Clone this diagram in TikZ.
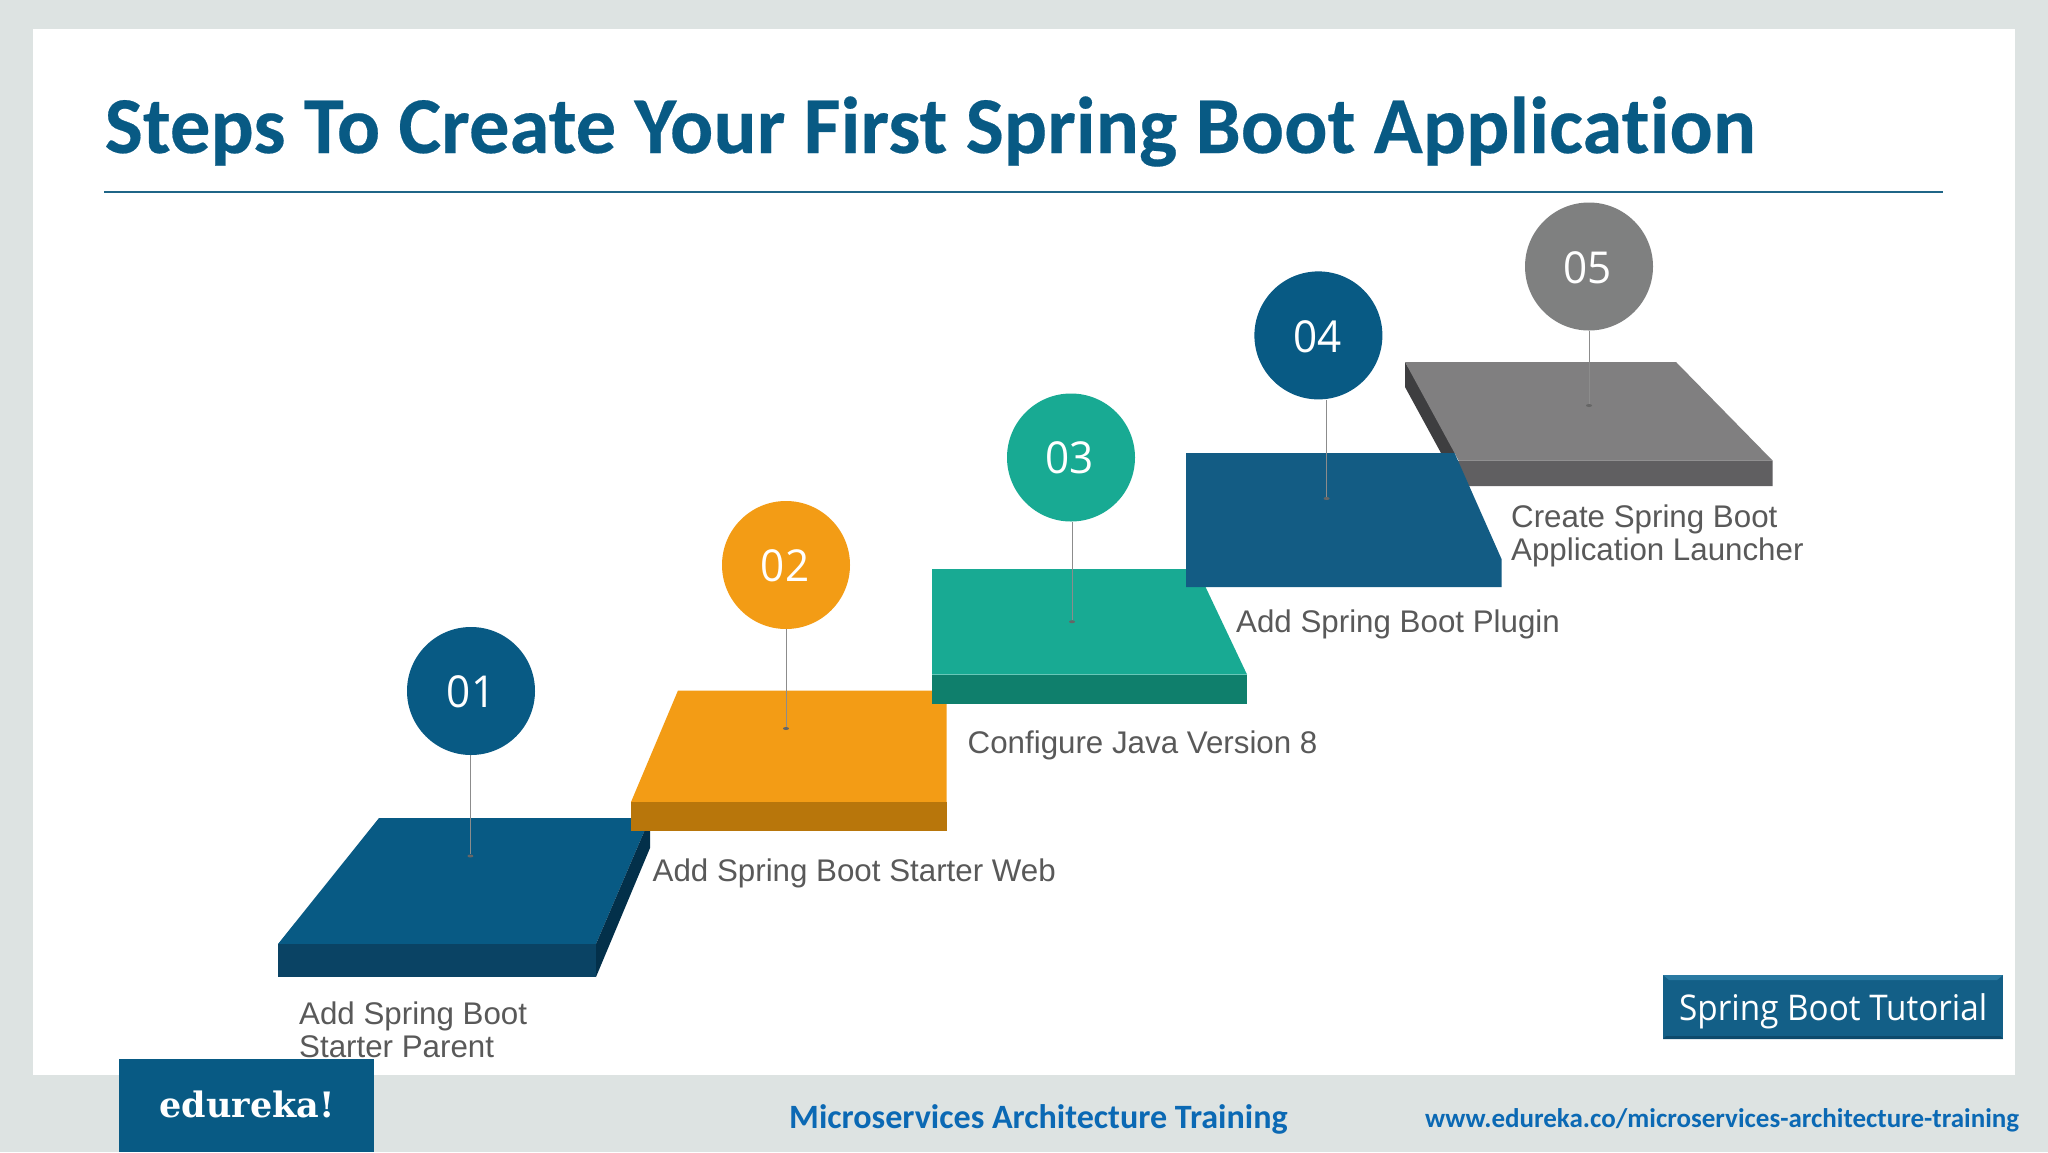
\documentclass[tikz,border=0pt]{standalone}
\usepackage{fontspec}
\setmainfont{Liberation Sans}
\newfontfamily\opensans[FakeStretch=0.94]{Open Sans}
\newfontfamily\numfont[FakeStretch=0.96]{Open Sans}
\newfontfamily\carlito[Ligatures=NoCommon]{Carlito}
\newfontfamily\titlefont[Ligatures=NoCommon,BoldFeatures={FakeBold=0.25}]{Carlito}
\newfontfamily\slabfont{DejaVu Serif}
\definecolor{pagebg}{HTML}{DDE3E2}
\definecolor{brandblue}{HTML}{085A84}
\definecolor{bluefront}{HTML}{0A4364}
\definecolor{blueside}{HTML}{03304A}
\definecolor{orangetop}{HTML}{F39C15}
\definecolor{orangefront}{HTML}{B8760B}
\definecolor{tealtop}{HTML}{18AA93}
\definecolor{tealfront}{HTML}{0F7F6C}
\definecolor{planfour}{HTML}{135C84}
\definecolor{greytop}{HTML}{807F80}
\definecolor{greyfront}{HTML}{605F61}
\definecolor{greyside}{HTML}{3E3E40}
\definecolor{greycircle}{HTML}{7F8080}
\definecolor{labelgrey}{HTML}{595959}
\definecolor{rulecol}{HTML}{1F6587}
\definecolor{footblue}{HTML}{0B69B4}
\definecolor{tutbase}{HTML}{135F87}
\definecolor{tuttop}{HTML}{2A7AA2}
\definecolor{tutbot}{HTML}{0D4A6C}
\tikzset{
  numcircle/.style={circle,minimum size=128pt,inner sep=0pt},
  numtext/.style={text=white,inner sep=0pt,font=\numfont\fontsize{44}{44}\selectfont},
  steplabel/.style={anchor=base west,inner sep=0pt,text=labelgrey,font=\fontsize{31.3}{33}\selectfont},
  pinline/.style={draw=black!45,line width=1pt},
  pindot/.style={ellipse,fill=black!60,minimum width=6pt,minimum height=3pt,inner sep=0pt},
}
\usetikzlibrary{shapes.geometric}
\begin{document}
\begin{tikzpicture}[x=1pt,y=-1pt]
\useasboundingbox (0,0) rectangle (2048,1152);
\fill[pagebg] (0,0) rectangle (2048,1152);
\fill[white] (33,29) rectangle (2015,1075);
% title
\node[anchor=base west,inner sep=0pt,text=brandblue,font=\titlefont\bfseries\fontsize{80.7}{80}\selectfont] (title) at (104.5,153) {Steps To Create Your First Spring Boot Application};
\coordinate (ruleL) at (104,192);
\coordinate (ruleR) at (1943,192);
\draw[rulecol,line width=1.6pt] (ruleL) -- (ruleR);
% plate 1
\fill[brandblue] (379,818) -- (650,818) -- (596,944) -- (278,944) -- cycle;
\fill[bluefront] (278,944) -- (596,944) -- (596,977) -- (278,977) -- cycle;
\fill[blueside] (596,944) -- (650,818) -- (650,848) -- (596,977) -- cycle;
% plate 2
\fill[orangetop] (678,690.5) -- (946.5,690.5) -- (946.5,802) -- (631,802) -- cycle;
\fill[orangefront] (631,802) rectangle (946.5,831);
% plate 5
\fill[greyside] (1405,362) -- (1405,387) -- (1441,453) -- (1460,453) -- cycle;
\fill[greytop] (1405,362) -- (1676,362) -- (1772.6,460.6) -- (1458.7,460.6) -- cycle;
\fill[greyfront] (1458.7,460.6) -- (1772.6,460.6) -- (1772.6,486) -- (1440,486) -- cycle;
% plate 3
\fill[tealtop] (932,569) -- (1197,569) -- (1247,674.5) -- (932,674.5) -- cycle;
\fill[tealfront] (932,674.5) rectangle (1247,703.6);
% plate 4
\fill[planfour] (1186,453) -- (1454.6,453) -- (1501.5,559) -- (1501.5,587) -- (1186,587) -- cycle;
% circles and pins
\node[numcircle,fill=brandblue] (c1) at (471,691) {};
\node[numcircle,fill=orangetop] (c2) at (786,565) {};
\node[numcircle,fill=tealtop] (c3) at (1071,457.5) {};
\node[numcircle,fill=brandblue] (c4) at (1318.4,335.4) {};
\node[numcircle,fill=greycircle] (c5) at (1589,266.5) {};
\node[numtext] (n1) at (471,692) {01};
\node[numtext] (n2) at (785,566) {02};
\node[numtext] (n3) at (1069.5,458) {03};
\node[numtext] (n4) at (1317.5,337) {04};
\node[numtext] (n5) at (1587.5,268) {05};
\node[pindot] (d1) at (470.4,856) {};
\node[pindot] (d2) at (786,728.5) {};
\node[pindot] (d3) at (1072,621.7) {};
\node[pindot] (d4) at (1326.6,498.5) {};
\node[pindot] (d5) at (1589,405.5) {};
\draw[pinline] (d1 |- c1.south) -- (d1);
\draw[pinline] (d2 |- c2.south) -- (d2);
\draw[pinline] (d3 |- c3.south) -- (d3);
\draw[pinline] (d4 |- c4.south) -- (d4);
\draw[pinline] (d5 |- c5.south) -- (d5);
% labels
\node[steplabel] (l1a) at (299,1024) {Add Spring Boot};
\node[steplabel] (l1b) at (299,1057.5) {Starter Parent};
\node[steplabel] (l2) at (652.5,881.5) {Add Spring Boot Starter Web};
\node[steplabel] (l3) at (967.5,753.5) {Configure Java Version 8};
\node[steplabel] (l4) at (1236,632) {Add Spring Boot Plugin};
\node[steplabel] (l5a) at (1511,527) {Create Spring Boot};
\node[steplabel] (l5b) at (1511,560.5) {Application Launcher};
% tutorial badge
\fill[tutbase] (1663,975) rectangle (2003,1039);
\fill[tuttop] (1663,975) -- (2003,975) -- (1997,980) -- (1669,980) -- cycle;
\fill[tutbot] (1663,1039) -- (2003,1039) -- (2000,1036) -- (1666,1036) -- cycle;
\node[anchor=base west,inner sep=0pt,text=white,font=\opensans\fontsize{35.4}{35}\selectfont] (tut) at (1679,1020) {Spring Boot Tutorial};
% footer
\fill[brandblue] (119,1059) rectangle (373.5,1152);
\node[anchor=base west,inner sep=0pt,text=white,font=\slabfont\bfseries\fontsize{35}{34}\selectfont] (brand) at (159.5,1117) {edureka!};
\node[anchor=base west,inner sep=0pt,text=footblue,font=\carlito\bfseries\fontsize{34.1}{35}\selectfont] (ft) at (789,1128) {Microservices Architecture Training};
\node[anchor=base west,inner sep=0pt,text=footblue,font=\carlito\bfseries\fontsize{27}{29}\selectfont] (url) at (1425,1127) {www.edureka.co/microservices-architecture-training};
\end{tikzpicture}
\end{document}
